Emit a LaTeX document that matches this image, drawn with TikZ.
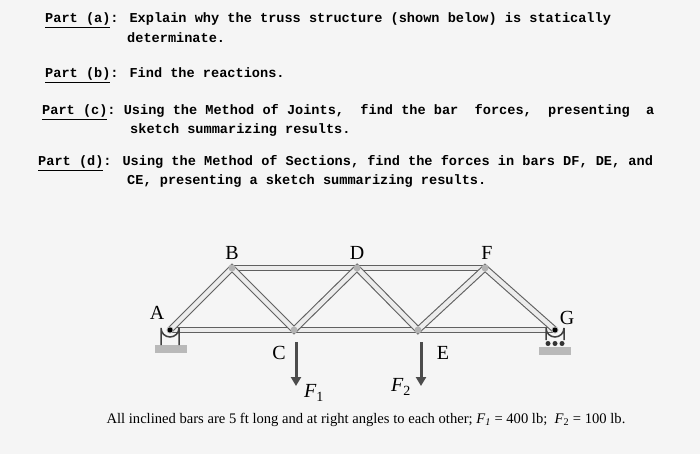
\documentclass[tikz,border=0pt]{standalone}
\usepackage{fontspec}
\setmainfont{Liberation Serif}
\newfontfamily\mono{Liberation Mono}
\usetikzlibrary{arrows.meta}
\begin{document}
\begin{tikzpicture}[x=1pt,y=-1pt,
  txt/.style={anchor=west,font=\mono\bfseries\fontsize{13.6}{15}\selectfont,inner sep=0},
  bar/.style={draw=gray!75!black,double=gray!15,double distance=4.5pt,line width=1.1pt},
  lbl/.style={font=\fontsize{20}{21}\selectfont,inner sep=1pt},
  force/.style={draw=gray!60!black,line width=3pt,-{Triangle[length=9pt,width=10pt]}}]
\fill[gray!8] (0,0) rectangle (700,454);
\useasboundingbox (0,0) rectangle (700,454);
\node[txt] (ta) at (45,20) {\underline{Part (a)}: Explain why the truss structure (shown below) is statically};
\node[txt] (ta2) at (127,38) {determinate.};
\node[txt] (tb) at (45,75) {\underline{Part (b)}: Find the reactions.};
\node[txt] (tc) at (42,112) {\underline{Part (c)}:\ Using the Method of\ Joints,\ \ find\ the\ bar\ \ forces,\ \ presenting\ \ a};
\node[txt] (tc2) at (130,130) {sketch summarizing results.};
\node[txt] (td) at (38,163) {\underline{Part (d)}: Using the Method of Sections, find the forces in bars DF, DE, and};
\node[txt] (td2) at (127,181) {CE, presenting a sketch summarizing results.};
\coordinate (A) at (170,330); \coordinate (B) at (232,268); \coordinate (D) at (357,268);
\coordinate (F) at (485,268); \coordinate (G) at (555,330); \coordinate (C) at (294,330);
\coordinate (E) at (418,330);
\draw[bar] (A) -- (G);
\draw[bar] (B) -- (F);
\draw[bar] (A) -- (B) -- (C) -- (D) -- (E) -- (F) -- (G);
\foreach \p in {A,B,C,D,E,F,G} \fill[gray!60] (\p) circle (3.5pt);
% supports
\fill[gray!55] (155,345) rectangle (187,353);
\draw[gray!50!black,line width=1.5pt] (161,345) -- (161,328) arc (180:0:9) -- (179,345);
\fill[black] (A) circle (2.5pt);
\fill[gray!55] (539,347) rectangle (571,355);
\draw[gray!50!black,line width=1.5pt] (546,340) -- (546,328) arc (180:0:9) -- (564,340);
\fill[black] (G) circle (2.5pt);
\foreach \x in {548,555,562} \fill[gray!40!black] (\x,343.5) circle (2.5pt);
\node[lbl] (lB) at (232,253) {B};
\node[lbl] (lD) at (357,253) {D};
\node[lbl] (lF) at (487,253) {F};
\node[lbl] (lA) at (157,313) {A};
\node[lbl] (lG) at (567,318) {G};
\node[lbl] (lC) at (279,353) {C};
\node[lbl] (lE) at (443,353) {E};
\coordinate (c1) at (296,342); \coordinate (c2) at (296,386);
\coordinate (e1) at (421,342); \coordinate (e2) at (421,386);
\draw[force] (c1) -- (c2);
\draw[force] (e1) -- (e2);
\node[lbl] (f1) at (314,393) {\textit{F}\textsubscript{1}};
\node[lbl] (f2) at (401,387) {\textit{F}\textsubscript{2}};
\node[inner sep=0,font=\fontsize{14.6}{16}\selectfont] (cap) at (366,420) {All inclined bars are 5 ft long and at right angles to each other; \textit{F\textsubscript{1}} = 400 lb;\ \ \textit{F}\textsubscript{2} = 100 lb.};
\end{tikzpicture}
\end{document}
